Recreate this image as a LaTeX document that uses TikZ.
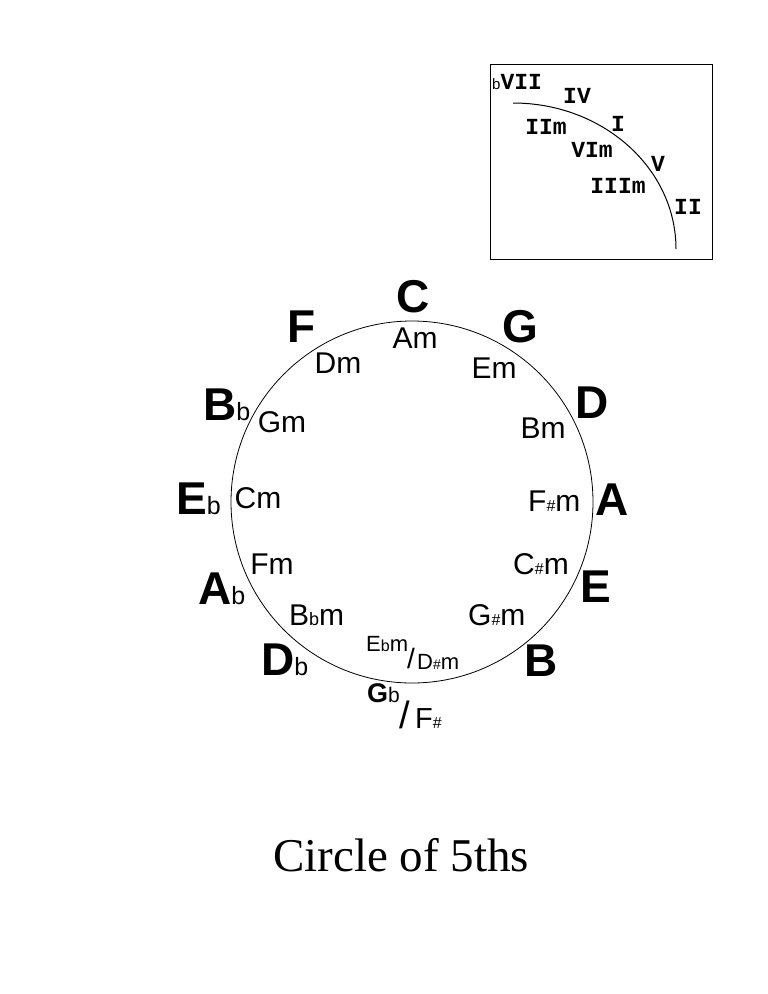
\documentclass[tikz,border=0pt]{standalone}
\usepackage{fontspec}
\setmainfont{Liberation Sans}
\newfontfamily\serifT{Liberation Serif}
\newfontfamily\monoT{Liberation Mono}
\newcommand{\fsz}[1]{\fontsize{#1}{#1}\selectfont}
\tikzset{
  maj/.style={font=\fsz{46}\bfseries, inner sep=0pt},
  mnr/.style={font=\fsz{30}, inner sep=0pt},
  rom/.style={font=\fsz{23}\monoT\bfseries, inner sep=0pt},
}
\newcommand{\fl}{{\fsz{25}\mdseries b}}
\newcommand{\sh}{{\fsz{16}\#}}
\begin{document}
\begin{tikzpicture}[x=1pt,y=-1pt]
\useasboundingbox[fill=white] (0,0) rectangle (768,994);
% inset
\node[draw, line width=0.8pt, minimum width=222pt, minimum height=195pt, inner sep=0pt] (box) at (601,161.5) {};
\draw[line width=1pt] (513,103) arc[start angle=-90, end angle=0, x radius=163, y radius=146];
\node[rom, anchor=base west] (bvii) at (492,89) {{\fsz{15}\mdseries\rmfamily b}VII};
\node[rom] (iv) at (577,96) {IV};
\node[rom] (iim) at (546,127) {IIm};
\node[rom] (i) at (618,124) {I};
\node[rom] (vim) at (592,150) {VIm};
\node[rom] (v) at (658,164) {V};
\node[rom] (iiim) at (618,186) {IIIm};
\node[rom] (ii) at (688,207) {II};
% circle
\node[draw, circle, line width=0.8pt, minimum size=362pt, inner sep=0pt] (circ) at (412,502) {};
\node[maj] (C) at (413,297) {C};
\node[mnr] (Am) at (415,338) {Am};
\node[maj] (F) at (302,327) {F};
\node[mnr] (Dm) at (338,363) {Dm};
\node[maj] (G) at (520,327) {G};
\node[mnr] (Em) at (494,368) {Em};
\node[maj, anchor=base west] (Bb) at (203,420) {B\fl};
\node[mnr] (Gm) at (282,422) {Gm};
\node[maj] (D) at (592,403) {D};
\node[mnr] (Bm) at (543,428) {Bm};
\node[maj, anchor=base west] (Eb) at (176,514) {E\fl};
\node[mnr] (Cm) at (258,498) {Cm};
\node[maj] (A) at (612,500) {A};
\node[mnr, anchor=base west] (Fsm) at (528,511) {F\sh m};
\node[maj, anchor=base west] (Ab) at (198,604) {A\fl};
\node[mnr] (Fm) at (272,564) {Fm};
\node[maj] (E) at (596,587) {E};
\node[mnr, anchor=base west] (Csm) at (513,574) {C\sh m};
\node[maj, anchor=base west] (Db) at (261,675) {D\fl};
\node[mnr, anchor=base west] (Bbm) at (289,625) {B{\fsz{18}b}m};
\node[maj] (B) at (541,661) {B};
\node[mnr, anchor=base west] (Gsm) at (468,625) {G\sh m};
\node[font=\fsz{22}, inner sep=0pt, anchor=base west] (Ebm) at (366,651) {E{\fsz{16}b}m};
\node[font=\fsz{28}, inner sep=0pt, anchor=base west] (sl1) at (407,668) {/};
\node[font=\fsz{22}, inner sep=0pt, anchor=base west] (Dsm) at (417,669) {D{\fsz{14}\#}m};
\node[font=\fsz{27}\bfseries, inner sep=0pt, anchor=base west] (Gb) at (367,702) {G{\fsz{21}\mdseries b}};
\node[font=\fsz{38}, inner sep=0pt, anchor=base west] (sl2) at (399,728) {/};
\node[font=\fsz{29}, inner sep=0pt, anchor=base west] (Fs) at (415,728) {F{\fsz{16}\#}};
% title
\node[font=\fsz{47}\serifT, inner sep=0pt] (title) at (401,855) {Circle of 5ths};
\end{tikzpicture}
\end{document}
